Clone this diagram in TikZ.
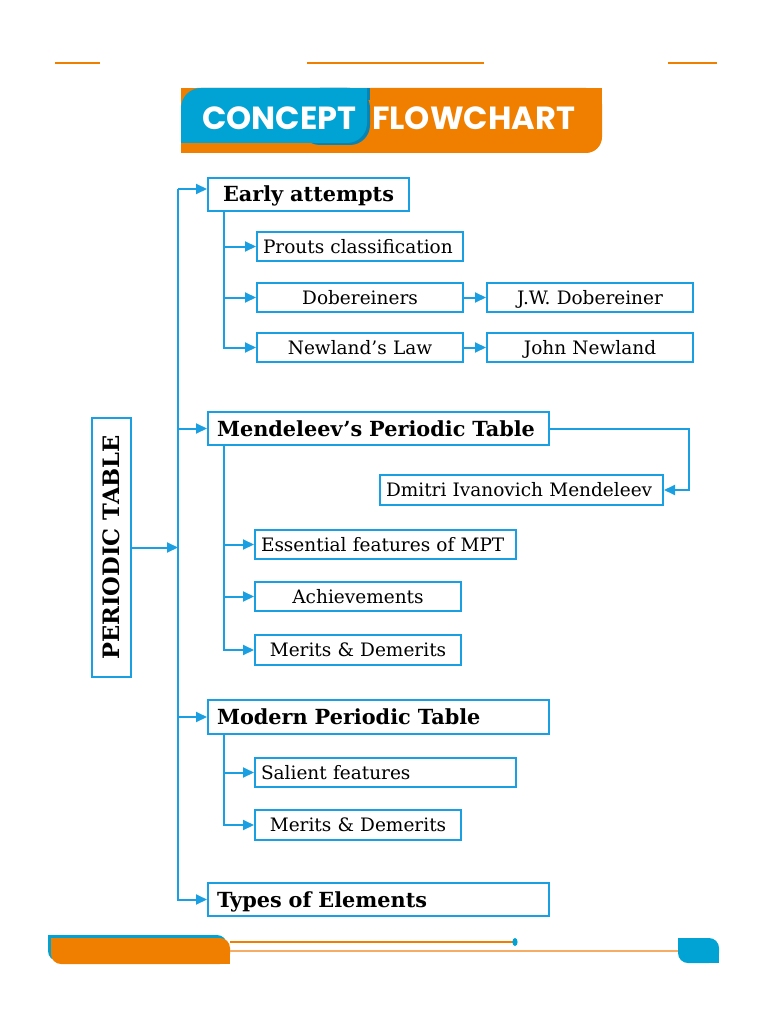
\documentclass[tikz,border=0pt]{standalone}
\usepackage{fontspec}
\setmainfont{DejaVu Serif}
\newfontfamily\bannerfont{Poppins}
\usepackage{tikz}
\usetikzlibrary{arrows.meta, positioning}
\usepackage{xcolor}

\definecolor{boxblue}{HTML}{1A9FE2}
\definecolor{hdblue}{HTML}{00A3D4}
\definecolor{hdshade}{HTML}{0784B4}
\definecolor{hdorange}{HTML}{F07F00}
\definecolor{lightorange}{HTML}{F5AD66}

\tikzset{
  topbox/.style={draw=boxblue, line width=2pt, anchor=west, minimum height=33pt,
    inner xsep=9pt, inner ysep=0pt, text height=17pt, text depth=2pt,
    font=\fontsize{20.8}{24}\selectfont\bfseries},
  subbox/.style={draw=boxblue, line width=2pt, anchor=west, minimum height=29pt,
    inner xsep=6pt, inner ysep=0pt, text height=15pt, text depth=1.5pt,
    font=\fontsize{18.5}{21}\selectfont},
  link/.style={boxblue, line width=2pt},
  linkarrow/.style={link, -{Triangle[length=11pt, width=10pt]}},
  bannertext/.style={text=white, anchor=west, inner sep=0pt,
    font=\bannerfont\bfseries\fontsize{32}{34}\selectfont},
}

\begin{document}
\begin{tikzpicture}[x=1pt, y=-1pt]
    \useasboundingbox (0,0) rectangle (768,1024);

    % Top rules
    \draw[hdorange, line width=2.6pt] (55,63) -- (100,63);
    \draw[hdorange, line width=2.6pt] (307,63) -- (484,63);
    \draw[hdorange, line width=2.6pt] (668,63) -- (717,63);

    % Banner
    \fill[hdorange, rounded corners=16pt] (181,88) rectangle (602,153);
    \fill[hdorange] (181,88) rectangle (420,153);
    \fill[hdorange] (520,88) rectangle (602,120);
    \fill[hdshade, rounded corners=20pt] (300,88) rectangle (370,145);
    \fill[hdshade] (300,88) rectangle (370,100);
    \fill[hdblue, rounded corners=20pt] (181,88) rectangle (367,143);
    \fill[hdblue] (300,88) rectangle (367,110);
    \fill[hdblue] (181,118) rectangle (250,143);
    \node[bannertext] (concept) at (202,118) {CONCEPT};
    \node[bannertext] (flowchart) at (372,118) {FLOWCHART};

    % Root
    \node[draw=boxblue, line width=2pt, rotate=90, minimum width=259pt, minimum height=39pt,
      inner sep=0pt, font=\fontsize{22.6}{26}\selectfont\bfseries] (ptable) at (111.5,547.5) {PERIODIC TABLE};

    % Early attempts
    \node[topbox, text width=183pt, align=center] (early) at (207,194.5) {Early attempts};
    \node[subbox, text width=194pt, align=left] (prout) at (256,246.5) {Prouts classification};
    \node[subbox, text width=194pt, align=center] (dob) at (256,297.5) {Dobereiners};
    \node[subbox, text width=194pt, align=center] (jwd) at (486,297.5) {J.W. Dobereiner};
    \node[subbox, text width=194pt, align=center] (newl) at (256,347.5) {Newland’s Law};
    \node[subbox, text width=194pt, align=center] (john) at (486,347.5) {John Newland};

    % Mendeleev
    \node[topbox, text width=323pt, align=left] (mend) at (207,428.5) {Mendeleev’s Periodic Table};
    \node[subbox, text width=271pt, align=left, minimum height=30pt] (dmitri) at (379,490) {Dmitri Ivanovich Mendeleev};
    \node[subbox, text width=249pt, align=left] (essf) at (254,544.5) {Essential features of MPT};
    \node[subbox, text width=194pt, align=center] (achv) at (254,596.5) {Achievements};
    \node[subbox, text width=194pt, align=center, minimum height=30pt] (merits) at (254,650) {Merits \& Demerits};

    % Modern
    \node[topbox, text width=323pt, align=left, minimum height=34pt] (modern) at (207,717) {Modern Periodic Table};
    \node[subbox, text width=249pt, align=left] (salient) at (254,772.5) {Salient features};
    \node[subbox, text width=194pt, align=center, minimum height=30pt] (meritsb) at (254,825) {Merits \& Demerits};

    % Types
    \node[topbox, text width=323pt, align=left] (types) at (207,899.5) {Types of Elements};

    % Trunk
    \coordinate (ttop) at (178,189);
    \draw[linkarrow] (ttop) -- (ttop -| early.west);
    \draw[linkarrow] (ttop) |- (types.west);
    \draw[linkarrow] (ttop |- mend.west) -- (mend.west);
    \draw[linkarrow] (ttop |- modern.west) -- (modern.west);
    \draw[linkarrow] (ptable.south) -- (ptable.south -| ttop);

    % Early attempts branch
    \coordinate (ebr) at ([xshift=17pt]early.south west);
    \draw[linkarrow] (ebr) |- (newl.west);
    \draw[linkarrow] (ebr |- prout.west) -- (prout.west);
    \draw[linkarrow] (ebr |- dob.west) -- (dob.west);
    \draw[linkarrow] (dob) -- (jwd);
    \draw[linkarrow] (newl) -- (john);

    % Mendeleev branch
    \draw[linkarrow] (mend.east) -- ++(139,0) |- (dmitri.east);
    \coordinate (mbr) at ([xshift=17pt]mend.south west);
    \draw[linkarrow] (mbr) |- (merits.west);
    \draw[linkarrow] (mbr |- essf.west) -- (essf.west);
    \draw[linkarrow] (mbr |- achv.west) -- (achv.west);

    % Modern branch
    \coordinate (mobr) at ([xshift=17pt]modern.south west);
    \draw[linkarrow] (mobr) |- (meritsb.west);
    \draw[linkarrow] (mobr |- salient.west) -- (salient.west);

    % Footer
    \fill[hdblue, rounded corners=10pt] (48,935) rectangle (227,961);
    \fill[hdblue] (48,935) rectangle (100,945);
    \fill[hdblue] (180,950) rectangle (227,961);
    \fill[hdorange, rounded corners=10pt] (51,938) rectangle (230,964);
    \fill[hdorange] (51,938) rectangle (100,948);
    \fill[hdorange] (180,952) rectangle (230,964);
    \draw[hdorange, line width=1.2pt] (230,942) -- (515,942);
    \fill[hdblue] (515,942) ellipse (2.6pt and 4pt);
    \draw[lightorange, line width=2pt] (230,951) -- (680,951);
    \fill[hdblue, rounded corners=10pt] (678,938) rectangle (719,963);
    \fill[hdblue] (678,938) rectangle (695,950);
    \fill[hdblue] (700,950) rectangle (719,963);
\end{tikzpicture}
\end{document}
